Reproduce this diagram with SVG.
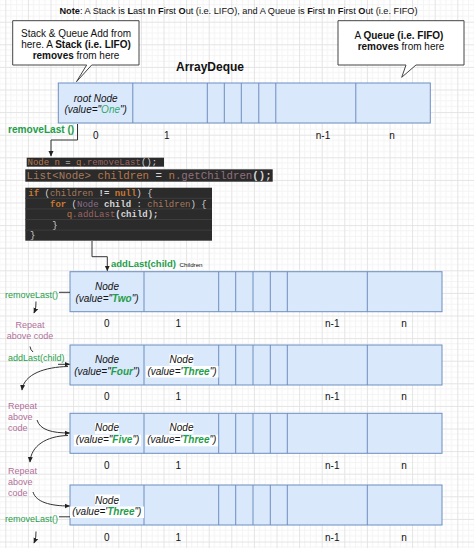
<svg xmlns="http://www.w3.org/2000/svg" width="474" height="548" viewBox="0 0 474 548">
<defs>
<pattern id="grid" x="5.3" y="21.7" width="22.6" height="22.6" patternUnits="userSpaceOnUse">
<path d="M5.65,0V22.6M11.3,0V22.6M16.95,0V22.6M0,5.65H22.6M0,11.3H22.6M0,16.95H22.6" stroke="#f4f4f4" stroke-width="1" fill="none"/>
<path d="M0.5,0V22.6M0,0.5H22.6" stroke="#e4e4e4" stroke-width="1" fill="none"/>
</pattern>
<marker id="ah" markerWidth="6" markerHeight="6" refX="5" refY="3" orient="auto" markerUnits="userSpaceOnUse">
<path d="M0,0.5L5.5,3L0,5.5Z" fill="#222"/>
</marker>
<style>
text{font-family:"Liberation Sans",Arial,sans-serif;fill:#111}
.arr{fill:#dae8fc;stroke:#6c8ebf;stroke-width:1}
.div{stroke:#6c8ebf;stroke-width:1}
.idx{font-size:10px;text-anchor:middle}
.nd{font-size:10px;font-style:italic;text-anchor:middle}
.gv{fill:#1f9e4a;font-weight:bold}
.go{fill:#2eaa6e}
.call{fill:#fff;stroke:#444;stroke-width:1}
.ct{font-size:10px;text-anchor:middle}
.b{font-weight:bold}
.grn{fill:#1f9e4a}
.pink{fill:#b0709a;font-size:9px}
.code{font-family:"Liberation Mono","Courier New",monospace;fill:#d4d4d4}
.kw{fill:#cc7832;font-weight:bold}
.id{fill:#b9784a}
.me{fill:#9a6464}
.vr{fill:#a87a5c}
.pu{fill:#d6d6d6}
.conn{fill:none;stroke:#333;stroke-width:1}
.wb{fill:#fff}
</style>
</defs>
<rect x="0" y="0" width="474" height="548" fill="#fff"/>
<rect x="0" y="0" width="474" height="548" fill="url(#grid)"/>

<text x="238.5" y="13.5" text-anchor="middle" font-size="9.2"><tspan class="b">Note</tspan>: A Stack is <tspan class="b">L</tspan>ast <tspan class="b">I</tspan>n <tspan class="b">F</tspan>irst <tspan class="b">O</tspan>ut (i.e. LIFO), and A Queue is <tspan class="b">F</tspan>irst <tspan class="b">I</tspan>n <tspan class="b">F</tspan>irst <tspan class="b">O</tspan>ut (i.e. FIFO)</text>

<g id="callout-left">
<path class="call" d="M12.7,20.7H139V65H91.7L76.5,81.7L86.7,65H12.7Z"/>
<text class="ct" x="76" y="36.5">Stack &amp; Queue Add from</text>
<text class="ct" x="76" y="47.5">here. A <tspan class="b">Stack (i.e. LIFO)</tspan></text>
<text class="ct" x="76" y="58.5"><tspan class="b">removes</tspan> from here</text>
</g>

<g id="callout-right">
<path class="call" d="M338,20.7H464V65H416L401.7,77.3L406,65H338Z"/>
<text class="ct" x="399" y="38.5">A <tspan class="b">Queue (i.e. FIFO)</tspan></text>
<text class="ct" x="401" y="50"><tspan class="b">removes</tspan> from here</text>
</g>

<text x="210" y="71" text-anchor="middle" font-size="12" font-weight="bold">ArrayDeque</text>

<g id="array1" transform="translate(58.3,83)">
<rect class="arr" x="0" y="0" width="372" height="40"/>
<path class="div" d="M74.5,0V40M149,0V40M166,0V40M183,0V40M200.5,0V40M217.5,0V40M297.5,0V40"/>
<text class="nd" x="37.4" y="18.5">root Node</text>
<text class="nd" x="37.4" y="30">(value="<tspan class="go">One</tspan>")</text>
<text class="idx" x="37.4" y="55.5">0</text><text class="idx" x="108.4" y="55.5">1</text><text class="idx" x="264.7" y="55.5">n-1</text><text class="idx" x="333.7" y="55.5">n</text>
</g>

<text x="8" y="133" font-size="10.1" class="grn b">removeLast ()</text>

<g id="code">
<rect x="26.7" y="157.7" width="137.3" height="9" fill="#2b2b2b"/>
<text class="code" x="27.5" y="165.3" font-size="9" xml:space="preserve"><tspan class="id">Node n</tspan><tspan class="pu"> = </tspan><tspan class="id">q</tspan><tspan class="me">.removeLast</tspan><tspan class="pu">();</tspan></text>
<rect x="25.3" y="169.3" width="247.4" height="12.4" fill="#2b2b2b"/>
<text class="code" x="26.5" y="179.3" font-size="10.75" xml:space="preserve"><tspan class="vr">List&lt;Node&gt;</tspan><tspan class="id"> children</tspan><tspan class="pu"> = </tspan><tspan class="id">n</tspan><tspan fill="#93707f">.getChildren</tspan><tspan class="pu" font-weight="bold">();</tspan></text>
<rect x="25.3" y="187.7" width="186.7" height="53" fill="#2b2b2b"/>
<path d="M25.3,198.3H212M25.3,208.9H212M25.3,219.5H212M25.3,230.1H212" stroke="#3d3d3d" stroke-width="1"/>
<text class="code" x="28.3" y="196" font-size="9" xml:space="preserve"><tspan class="kw">if</tspan><tspan class="pu"> (</tspan><tspan class="vr">children</tspan><tspan class="pu" font-weight="bold"> != </tspan><tspan class="kw">null</tspan><tspan class="pu">) {</tspan></text>
<text class="code" x="50" y="206.6" font-size="9" xml:space="preserve"><tspan class="kw">for</tspan><tspan class="pu"> (</tspan><tspan fill="#8c6e8c">Node</tspan><tspan class="pu" font-weight="bold"> child</tspan><tspan class="pu"> : </tspan><tspan class="vr">children</tspan><tspan class="pu">) {</tspan></text>
<text class="code" x="66.7" y="217.2" font-size="9" xml:space="preserve"><tspan class="id">q</tspan><tspan class="me">.addLast</tspan><tspan class="pu" font-weight="bold">(child);</tspan></text>
<text class="code" x="52.3" y="227.8" font-size="9"><tspan class="pu">}</tspan></text>
<text class="code" x="30" y="238.4" font-size="9"><tspan class="pu">}</tspan></text>
</g>

<text x="111" y="266.5" font-size="9.5" class="grn b">addLast(child)</text>
<text x="179.5" y="266.5" font-size="6.2">Children</text>

<g id="array2" transform="translate(70,271.7)">
<rect class="arr" x="0" y="0" width="372" height="40"/>
<path class="div" d="M74,0V40M148.7,0V40M165.7,0V40M183,0V40M200.3,0V40M217.3,0V40M297.3,0V40"/>
<text class="nd" x="37" y="18">Node</text>
<text class="nd" x="37" y="30">(value="<tspan class="gv">Two</tspan>")</text>
<text class="idx" x="36.7" y="55.2">0</text><text class="idx" x="108.3" y="55.2">1</text><text class="idx" x="262.3" y="55.2">n-1</text><text class="idx" x="334" y="55.2">n</text>
</g>

<g id="array3" transform="translate(70,345)">
<rect class="arr" x="0" y="0" width="372" height="40"/>
<path class="div" d="M74,0V40M148.7,0V40M165.7,0V40M183,0V40M200.3,0V40M217.3,0V40M297.3,0V40"/>
<text class="nd" x="37" y="18">Node</text>
<text class="nd" x="37" y="29.5">(value="<tspan class="gv">Four</tspan>")</text>
<rect class="wb" x="99.5" y="9.5" width="24" height="11"/>
<rect class="wb" x="76" y="21" width="72.5" height="11.5"/>
<text class="nd" x="111.5" y="18">Node</text>
<text class="nd" x="112" y="29.5">(value='<tspan class="gv">Three</tspan>")</text>
<text class="idx" x="36.7" y="55.2">0</text><text class="idx" x="108.3" y="55.2">1</text><text class="idx" x="262.3" y="55.2">n-1</text><text class="idx" x="334" y="55.2">n</text>
</g>

<g id="array4" transform="translate(70,413.3)">
<rect class="arr" x="0" y="0" width="372" height="40"/>
<path class="div" d="M74,0V40M148.7,0V40M165.7,0V40M183,0V40M200.3,0V40M217.3,0V40M297.3,0V40"/>
<rect class="wb" x="25" y="9.5" width="24" height="11"/>
<rect class="wb" x="4" y="21.5" width="67" height="11.5"/>
<text class="nd" x="37" y="18">Node</text>
<text class="nd" x="37.5" y="30">(value="<tspan class="gv">Five</tspan>")</text>
<rect class="wb" x="99.5" y="9.5" width="24" height="11"/>
<rect class="wb" x="75.5" y="21.5" width="72.5" height="11.5"/>
<text class="nd" x="111.5" y="18">Node</text>
<text class="nd" x="111.8" y="30">(value='<tspan class="gv">Three</tspan>")</text>
<text class="idx" x="36.7" y="56">0</text><text class="idx" x="108.3" y="56">1</text><text class="idx" x="262.3" y="56">n-1</text><text class="idx" x="334" y="56">n</text>
</g>

<g id="array5" transform="translate(70,485)">
<rect class="arr" x="0" y="0" width="372" height="40"/>
<path class="div" d="M74,0V40M148.7,0V40M165.7,0V40M183,0V40M200.3,0V40M217.3,0V40M297.3,0V40"/>
<rect class="wb" x="25" y="9.5" width="25" height="11"/>
<rect class="wb" x="0" y="21.5" width="74" height="11.5"/>
<text class="nd" x="37" y="18.5">Node</text>
<text class="nd" x="36.8" y="30">(value='<tspan class="gv">Three</tspan>")</text>
<text class="idx" x="36.7" y="56.2">0</text><text class="idx" x="108.3" y="56.2">1</text><text class="idx" x="262.3" y="56.2">n-1</text><text class="idx" x="334" y="56.2">n</text>
</g>

<g id="labels-left">
<text x="5" y="297.5" font-size="9" class="grn">removeLast()</text>
<text x="30" y="328" text-anchor="middle" class="pink">Repeat</text>
<text x="30" y="339" text-anchor="middle" class="pink">above code</text>
<text x="8" y="361" font-size="9" class="grn">addLast(child)</text>
<text x="8" y="409" class="pink">Repeat</text>
<text x="8" y="420" class="pink">above</text>
<text x="8" y="431" class="pink">code</text>
<text x="8" y="474" class="pink">Repeat</text>
<text x="8" y="485" class="pink">above</text>
<text x="8" y="496" class="pink">code</text>
<text x="5" y="521.5" font-size="9" class="grn">removeLast()</text>
</g>

<g id="connectors">
<path class="conn" d="M77.5,124V140H51V156" marker-end="url(#ah)"/>
<path class="conn" d="M92,241V256.7H107.3V270.7" marker-end="url(#ah)"/>
<path class="conn" d="M59,292.3H70"/>
<path class="conn" d="M36,301.5Q36.5,307 34,313" marker-end="url(#ah)"/>
<path class="conn" d="M30,346.5Q30.5,350 33,352"/>
<path class="conn" d="M58,364.3H69.5" marker-end="url(#ah)"/>
<path class="conn" d="M68,366.5C45,367 24,374 22,390" marker-end="url(#ah)"/>
<path class="conn" d="M37,420C40,430 52,433 69.5,433" marker-end="url(#ah)"/>
<path class="conn" d="M68,435.5C46,436 31,446 30,462" marker-end="url(#ah)"/>
<path class="conn" d="M33,492C36,502 50,506 69.5,506" marker-end="url(#ah)"/>
<path class="conn" d="M59,516.8H70"/>
<path class="conn" d="M36,531.5Q36.5,537 34,543" marker-end="url(#ah)"/>
</g>
</svg>
